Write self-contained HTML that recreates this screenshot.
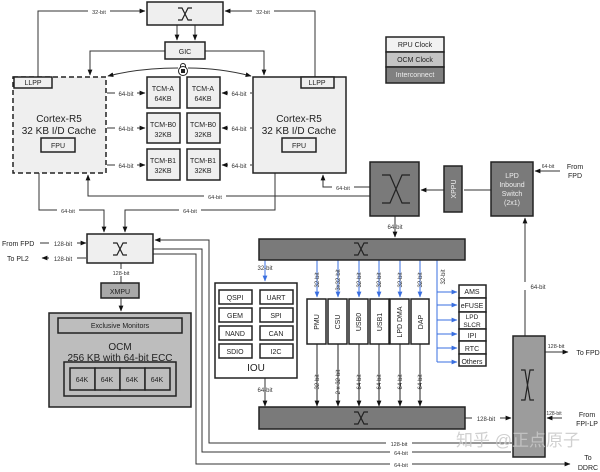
<!DOCTYPE html>
<html><head><meta charset="utf-8"><style>
html,body{margin:0;padding:0;background:#fff;}
svg{display:block;font-family:"Liberation Sans",sans-serif;}
</style></head><body>
<svg width="600" height="472" viewBox="0 0 600 472" xmlns="http://www.w3.org/2000/svg">
<defs>
<marker id="a" viewBox="0 0 10 10" refX="9" refY="5" markerWidth="6" markerHeight="6" orient="auto"><path d="M0,1 L10,5 L0,9z" fill="#111"/></marker>
<marker id="b" viewBox="0 0 10 10" refX="9" refY="5" markerWidth="6" markerHeight="6" orient="auto"><path d="M0,1 L10,5 L0,9z" fill="#3a6fe0"/></marker>
</defs>
<g stroke="#333" stroke-width="1" fill="none">
<path d="M38,77 V11 H145" marker-end="url(#a)"/>
<path d="M315,78 V11 H225" marker-end="url(#a)"/>
<path d="M177,25 V40" marker-end="url(#a)"/>
<path d="M195,25 V40" marker-end="url(#a)"/>
<path d="M165,51 H90 V75" marker-end="url(#a)"/>
<path d="M205,51 H264 V75" marker-end="url(#a)"/>
<path d="M178,68 Q140,68 108,76" marker-end="url(#a)"/>
<path d="M188,68 Q220,68 251,76" marker-end="url(#a)"/>
<path d="M107,93 H145" marker-end="url(#a)"/>
<path d="M107,128 H145" marker-end="url(#a)"/>
<path d="M107,165 H145" marker-end="url(#a)"/>
<path d="M252,93 H222" marker-end="url(#a)"/>
<path d="M252,128 H222" marker-end="url(#a)"/>
<path d="M252,165 H222" marker-end="url(#a)"/>
<path d="M370,196 H88 V175" marker-end="url(#a)"/>
<path d="M370,187 H323 V175" marker-end="url(#a)"/>
<path d="M39,173 V210 H104 V232" marker-end="url(#a)"/>
<path d="M275,173 V210 H125 V232" marker-end="url(#a)"/>
<path d="M491,190 H464"/>
<path d="M444,190 H421" marker-end="url(#a)"/>
<path d="M560,171 H535" marker-end="url(#a)"/>
<path d="M395,216 V237" marker-end="url(#a)"/>
<path d="M525,336 V218" marker-end="url(#a)"/>
<path d="M40,243 H86" marker-end="url(#a)"/>
<path d="M86,258 H42" marker-end="url(#a)"/>
<path d="M121,263 V283"/>
<path d="M121,298 V311" marker-end="url(#a)"/>
<path d="M512,443 H209 V240 H155" marker-end="url(#a)"/>
<path d="M153,249 H202 V452 H511"/>
<path d="M153,254 H196 V464 H570" marker-end="url(#a)"/>
<path d="M265,260 V281" stroke="#3a6fe0" marker-end="url(#b)"/>
<path d="M265,378 V406" marker-end="url(#a)"/>
<path d="M465,418 H511" marker-end="url(#a)"/>
<path d="M545,352 H568" marker-end="url(#a)"/>
<path d="M562,418 H547" marker-end="url(#a)"/>
</g>
<g stroke="#3a6fe0" stroke-width="1" fill="none">
<path d="M317,260 V297" marker-end="url(#b)"/>
<path d="M338,260 V297" marker-end="url(#b)"/>
<path d="M359,260 V297" marker-end="url(#b)"/>
<path d="M379,260 V297" marker-end="url(#b)"/>
<path d="M400,260 V297" marker-end="url(#b)"/>
<path d="M420,260 V297" marker-end="url(#b)"/>
<path d="M437,260 V362"/>
<path d="M437,292 H457" marker-end="url(#b)"/>
<path d="M437,305 H457" marker-end="url(#b)"/>
<path d="M437,320 H457" marker-end="url(#b)"/>
<path d="M437,334 H457" marker-end="url(#b)"/>
<path d="M437,348 H457" marker-end="url(#b)"/>
<path d="M437,362 H457" marker-end="url(#b)"/>
</g>
<g stroke="#222" stroke-width="1" fill="none">
<path d="M317,344 V406" marker-end="url(#a)"/>
<path d="M338,344 V406" marker-end="url(#a)"/>
<path d="M359,344 V406" marker-end="url(#a)"/>
<path d="M379,344 V406" marker-end="url(#a)"/>
<path d="M400,344 V406" marker-end="url(#a)"/>
<path d="M420,344 V406" marker-end="url(#a)"/>
</g>
<g stroke="#222" stroke-width="1.5">
<rect x="147" y="2" width="76" height="23" fill="#efefef"/>
<rect x="165" y="42" width="40" height="17" fill="#efefef"/>
<rect x="13" y="77" width="93" height="96" fill="#efefef" stroke-dasharray="5,3"/>
<rect x="253" y="77" width="93" height="96" fill="#efefef"/>
<rect x="14" y="77" width="38" height="11" fill="#efefef"/>
<rect x="301" y="77" width="33" height="11" fill="#efefef"/>
<rect x="41" y="138" width="34" height="14" fill="#efefef"/>
<rect x="282" y="138" width="34" height="14" fill="#efefef"/>
<rect x="147" y="77" width="33" height="31" fill="#efefef"/>
<rect x="147" y="113" width="33" height="30" fill="#efefef"/>
<rect x="147" y="149" width="33" height="31" fill="#efefef"/>
<rect x="187" y="77" width="33" height="31" fill="#efefef"/>
<rect x="187" y="113" width="33" height="30" fill="#efefef"/>
<rect x="187" y="149" width="33" height="31" fill="#efefef"/>
<rect x="386" y="37" width="58" height="15" fill="#f2f2f2"/>
<rect x="386" y="52" width="58" height="15" fill="#c4c4c4"/>
<rect x="386" y="67" width="58" height="16" fill="#808080"/>
<rect x="370" y="162" width="49" height="54" fill="#7a7a7a"/>
<rect x="444" y="166" width="18" height="46" fill="#7a7a7a"/>
<rect x="491" y="162" width="42" height="54" fill="#7a7a7a"/>
<rect x="259" y="239" width="206" height="21" fill="#7a7a7a"/>
<rect x="259" y="407" width="206" height="22" fill="#7a7a7a"/>
<rect x="513" y="336" width="32" height="121" fill="#9c9c9c"/>
<rect x="87" y="234" width="66" height="29" fill="#efefef"/>
<rect x="101" y="283" width="38" height="15" fill="#a8a8a8"/>
<rect x="49" y="313" width="142" height="94" fill="#bdbdbd"/>
<rect x="58" y="318" width="124" height="15" fill="#bdbdbd"/>
<rect x="64" y="362" width="112" height="34" fill="#bdbdbd"/>
<rect x="70" y="368" width="25" height="22" fill="#bdbdbd"/>
<rect x="95" y="368" width="25" height="22" fill="#bdbdbd"/>
<rect x="120" y="368" width="25" height="22" fill="#bdbdbd"/>
<rect x="145" y="368" width="25" height="22" fill="#bdbdbd"/>
<rect x="215" y="283" width="82" height="95" fill="#fff"/>
<rect x="219" y="290" width="33" height="14" fill="#fff"/>
<rect x="260" y="290" width="33" height="14" fill="#fff"/>
<rect x="219" y="308" width="33" height="14" fill="#fff"/>
<rect x="260" y="308" width="33" height="14" fill="#fff"/>
<rect x="219" y="326" width="33" height="14" fill="#fff"/>
<rect x="260" y="326" width="33" height="14" fill="#fff"/>
<rect x="219" y="344" width="33" height="14" fill="#fff"/>
<rect x="260" y="344" width="33" height="14" fill="#fff"/>
<rect x="307" y="299" width="19" height="45" fill="#fff"/>
<rect x="328" y="299" width="19" height="45" fill="#fff"/>
<rect x="349" y="299" width="19" height="45" fill="#fff"/>
<rect x="370" y="299" width="19" height="45" fill="#fff"/>
<rect x="390" y="299" width="19" height="45" fill="#fff"/>
<rect x="411" y="299" width="18" height="45" fill="#fff"/>
<rect x="459" y="285" width="27" height="13" fill="#fff"/>
<rect x="459" y="298" width="27" height="14" fill="#fff"/>
<rect x="459" y="312" width="27" height="17" fill="#fff"/>
<rect x="459" y="329" width="27" height="12" fill="#fff"/>
<rect x="459" y="341" width="27" height="13" fill="#fff"/>
<rect x="459" y="354" width="27" height="12" fill="#fff"/>
</g>
<g stroke="#222" stroke-width="1.2" fill="none">
<path d="M178,8 h4 l6,12 h4 M178,20 h4 l6,-12 h4"/>
<path d="M113,243 h4 l6,12 h4 M113,255 h4 l6,-12 h4"/>
<path d="M382,175 h8 l12,28 h8 M382,203 h8 l12,-28 h8"/>
<path d="M354,243 h4 l6,12 h4 M354,255 h4 l6,-12 h4"/>
<path d="M354,412 h4 l6,12 h4 M354,424 h4 l6,-12 h4"/>
<path d="M521,370 h4 l5,30 h4 M521,400 h4 l5,-30 h4"/>
</g>
<path d="M180.5,68 v-2 a2.5,2.5 0 0 1 5,0 v2" fill="none" stroke="#222"/>
<circle cx="183" cy="71" r="4.5" fill="#fff" stroke="#222"/>
<rect x="181" y="69" width="4" height="4" fill="#222"/>
<g font-size="6" fill="#333" text-anchor="middle">
<g fill="#fff" stroke="none"><rect x="88" y="8" width="22" height="7"/><rect x="252" y="8" width="22" height="7"/>
<rect x="115" y="90" width="22" height="7"/><rect x="115" y="125" width="22" height="7"/><rect x="115" y="162" width="22" height="7"/>
<rect x="228" y="90" width="22" height="7"/><rect x="228" y="125" width="22" height="7"/><rect x="228" y="162" width="22" height="7"/>
<rect x="204" y="193" width="22" height="7"/><rect x="332" y="184" width="22" height="7"/><rect x="57" y="207" width="22" height="7"/><rect x="179" y="207" width="22" height="7"/>
<rect x="49" y="240" width="28" height="7"/><rect x="49" y="255" width="28" height="7"/><rect x="110" y="269" width="22" height="7"/>
<rect x="386" y="440" width="26" height="7"/><rect x="390" y="449" width="22" height="7"/><rect x="390" y="461" width="22" height="7"/><rect x="472" y="415" width="28" height="7"/>
<rect x="518" y="282" width="20" height="8"/>
</g>
<text x="99" y="14" font-size="5.5">32-bit</text><text x="263" y="14" font-size="5.5">32-bit</text>
<text x="126" y="96">64-bit</text><text x="126" y="131">64-bit</text><text x="126" y="168">64-bit</text>
<text x="239" y="96">64-bit</text><text x="239" y="131">64-bit</text><text x="239" y="168">64-bit</text>
<text x="215" y="199" font-size="5.5">64-bit</text><text x="343" y="190" font-size="5.5">64-bit</text>
<text x="68" y="213" font-size="5.5">64-bit</text><text x="190" y="213" font-size="5.5">64-bit</text>
<text x="63" y="246">128-bit</text><text x="63" y="261">128-bit</text><text x="121" y="275" font-size="5.5">128-bit</text>
<text x="395" y="229">64-bit</text><text x="538" y="289">64-bit</text>
<text x="265" y="270">32-bit</text><text x="265" y="392">64-bit</text>
<text x="486" y="421">128-bit</text><text x="556" y="348" font-size="5.5">128-bit</text><text x="548" y="168" font-size="5">64-bit</text><text x="554" y="415" font-size="5">128-bit</text>
<text x="399" y="446" font-size="5.5">128-bit</text><text x="401" y="455" font-size="5.5">64-bit</text><text x="401" y="467" font-size="5.5">64-bit</text>
</g>
<g font-size="6" fill="#333" text-anchor="middle">
<text transform="translate(319,280) rotate(-90)">32-bit</text>
<text transform="translate(340,280) rotate(-90)">3x32-bit</text>
<text transform="translate(361,280) rotate(-90)">32-bit</text>
<text transform="translate(381,280) rotate(-90)">32-bit</text>
<text transform="translate(402,280) rotate(-90)">32-bit</text>
<text transform="translate(422,280) rotate(-90)">32-bit</text>
<text transform="translate(445,277) rotate(-90)">32-bit</text>
<text transform="translate(319,382) rotate(-90)">32-bit</text>
<text transform="translate(340,382) rotate(-90)">2 x 32-bit</text>
<text transform="translate(361,382) rotate(-90)">64-bit</text>
<text transform="translate(381,382) rotate(-90)">64-bit</text>
<text transform="translate(402,382) rotate(-90)">64-bit</text>
<text transform="translate(422,382) rotate(-90)">64-bit</text>
</g>
<g font-size="7" fill="#222" text-anchor="middle">
<text x="185" y="54">GIC</text>
<text x="33" y="85">LLPP</text><text x="317" y="85">LLPP</text>
<text x="58" y="148">FPU</text><text x="299" y="148">FPU</text>
<text x="163" y="91">TCM-A</text><text x="163" y="101">64KB</text>
<text x="203" y="91">TCM-A</text><text x="203" y="101">64KB</text>
<text x="163" y="127">TCM-B0</text><text x="163" y="137">32KB</text>
<text x="203" y="127">TCM-B0</text><text x="203" y="137">32KB</text>
<text x="163" y="163">TCM-B1</text><text x="163" y="173">32KB</text>
<text x="203" y="163">TCM-B1</text><text x="203" y="173">32KB</text>
<text x="415" y="47">RPU Clock</text><text x="415" y="62">OCM Clock</text>
<text x="415" y="77" fill="#eee">Interconnect</text>
<g fill="#eee"><text x="512" y="178">LPD</text><text x="512" y="187">Inbound</text><text x="512" y="196">Switch</text><text x="512" y="205">(2x1)</text></g>
<text transform="translate(456,189) rotate(-90)" fill="#eee">XPPU</text>
<text x="120" y="294">XMPU</text>
<text x="120" y="328">Exclusive Monitors</text>
<text x="82" y="382">64K</text><text x="107" y="382">64K</text><text x="132" y="382">64K</text><text x="157" y="382">64K</text>
<text x="235" y="300">QSPI</text><text x="276" y="300">UART</text>
<text x="235" y="318">GEM</text><text x="276" y="318">SPI</text>
<text x="235" y="336">NAND</text><text x="276" y="336">CAN</text>
<text x="235" y="354">SDIO</text><text x="276" y="354">I2C</text>
<text x="472" y="294">AMS</text><text x="472" y="308">eFUSE</text>
<text x="472" y="319" font-size="6.5">LPD</text><text x="472" y="327" font-size="6.5">SLCR</text>
<text x="472" y="338">IPI</text><text x="472" y="351">RTC</text><text x="472" y="364">Others</text>
<text transform="translate(319,322) rotate(-90)">PMU</text>
<text transform="translate(340,322) rotate(-90)">CSU</text>
<text transform="translate(361,322) rotate(-90)">USB0</text>
<text transform="translate(382,322) rotate(-90)">USB1</text>
<text transform="translate(402,322) rotate(-90)">LPD DMA</text>
<text transform="translate(423,322) rotate(-90)">DAP</text>
<text x="575" y="169">From</text><text x="575" y="178">FPD</text>
<text x="588" y="355">To FPD</text>
<text x="587" y="417">From</text><text x="587" y="426">FPI-LP</text>
<text x="588" y="460">To</text><text x="588" y="470">DDRC</text>
<text x="2" y="246" text-anchor="start">From FPD</text>
<text x="7" y="261" text-anchor="start">To PL2</text>
</g>
<g font-size="10" fill="#222" text-anchor="middle">
<text x="59" y="122">Cortex-R5</text><text x="59" y="134">32 KB I/D Cache</text>
<text x="299" y="122">Cortex-R5</text><text x="299" y="134">32 KB I/D Cache</text>
<text x="120" y="350">OCM</text><text x="120" y="361">256 KB with 64-bit ECC</text>
<text x="256" y="371">IOU</text>
</g>
<text x="518" y="446" font-size="17" fill="#c8c8c8" text-anchor="middle" font-family="'Liberation Sans','Noto Sans CJK SC',sans-serif" opacity="0.85">知乎 @正点原子</text>
</svg>
</body></html>
